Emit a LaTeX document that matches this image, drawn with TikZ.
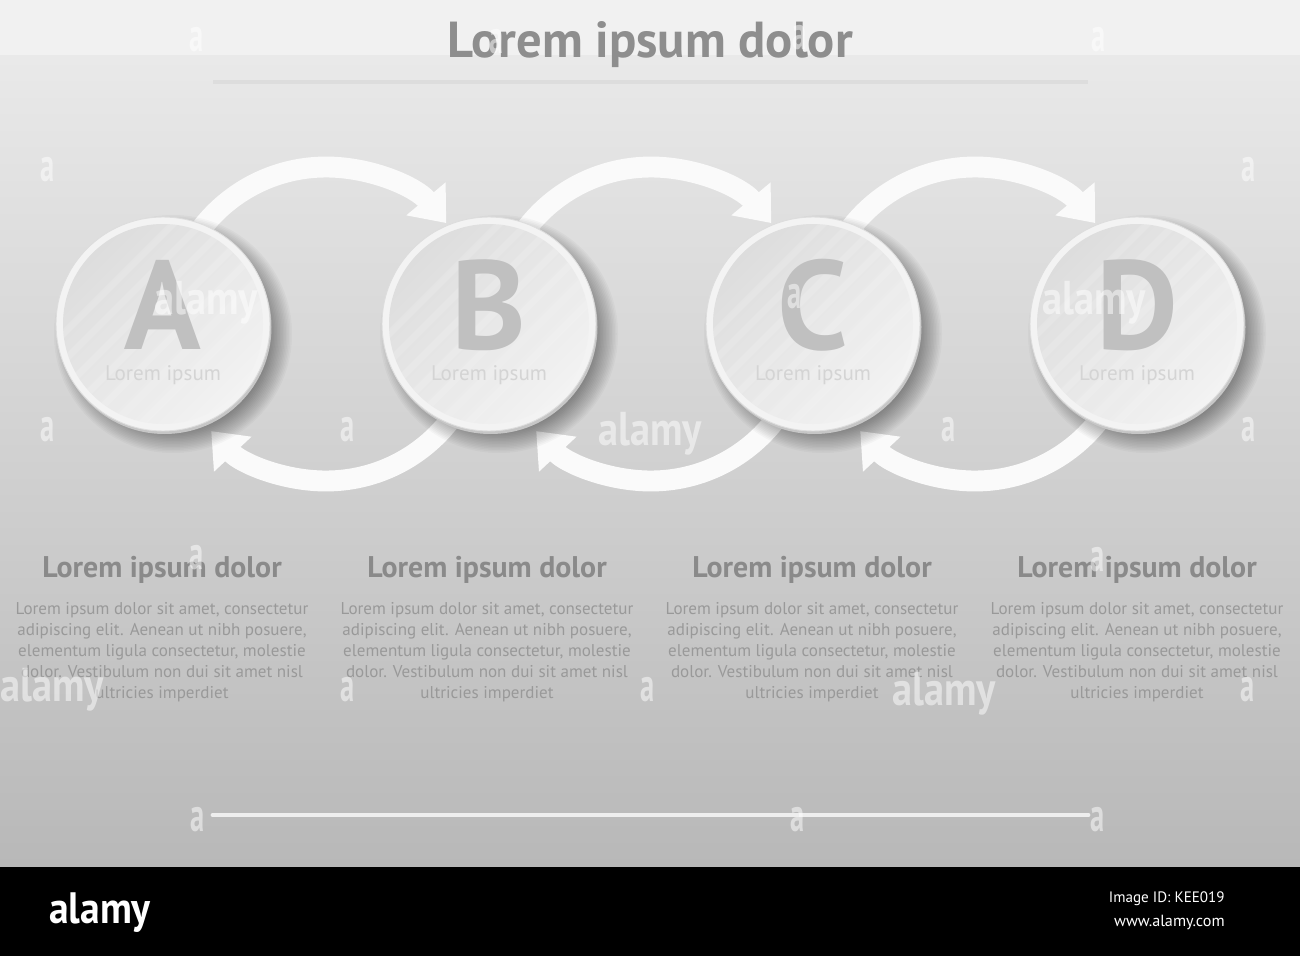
\documentclass[tikz,border=0pt]{standalone}
\usepackage{fontspec}
\setmainfont{PT Sans}
\usetikzlibrary{arrows.meta,calc,positioning}

\definecolor{bgtop}{HTML}{F1F1F1}
\definecolor{bgmid}{HTML}{E9E9E9}
\definecolor{bgbot}{HTML}{B8B8B8}
\definecolor{rulecol}{HTML}{DDDDDD}
\definecolor{baselinecol}{HTML}{EEEEEE}
\definecolor{flowcol}{HTML}{FAFAFA}
\definecolor{rimcol}{HTML}{F3F3F3}
\definecolor{rimedge}{HTML}{C6C6C6}
\definecolor{facedark}{HTML}{DDDDDD}
\definecolor{facelight}{HTML}{F2F2F2}
\definecolor{lettercol}{HTML}{C0C0C0}
\definecolor{capcol}{HTML}{D4D4D4}
\definecolor{titlecol}{HTML}{8E8E8E}
\definecolor{headcol}{HTML}{8A8A8A}
\definecolor{bodycol}{HTML}{999999}

\newcommand{\narrow}[2]{\scalebox{#1}[1]{#2}}

\begin{document}
\begin{tikzpicture}[x=0.02cm,y=0.02cm,
  flow/.style={draw=flowcol,line width=11.9pt,-{Triangle[length=18pt,width=28pt]}},
  disc/.style={circle,minimum size=4.28cm,inner sep=0pt,fill=rimcol,draw=rimedge!60,line width=0.5pt},
  face/.style={top color=facedark,bottom color=facelight,shading angle=45},
  letter/.style={anchor=base,font=\fontsize{72}{72}\bfseries\selectfont,text=lettercol},
  caption/.style={anchor=base,font=\fontsize{12}{12}\selectfont,text=capcol},
  heading/.style={anchor=base,font=\fontsize{17}{18}\bfseries\selectfont,text=headcol},
  body/.style={anchor=north,inner sep=0pt,align=center,font=\fontsize{9.7}{11.9}\selectfont,text=bodycol},
  wmark/.style={font=\fontsize{27}{27}\bfseries\selectfont,text=white,opacity=.5},
  footer/.style={anchor=east,text=white,inner sep=0pt},
]
  \useasboundingbox (0,0) rectangle (1300,-956);
  %% background
  \fill[bgtop] (0,0) rectangle (1300,-56);
  \shade[top color=bgmid,bottom color=bgbot] (0,-56) rectangle (1300,-867);
  \fill[black] (0,-867) rectangle (1300,-956);
  %% title
  \node[anchor=base,font=\fontsize{28.8}{30}\bfseries\selectfont,text=titlecol] (title) at (650,-58) {Lorem ipsum dolor};
  \coordinate (rule-l) at (213,-82);
  \coordinate (rule-r) at (1088,-82);
  \draw[rulecol,line width=2.3pt] (rule-l) -- (rule-r);
  %% circle centres
  \coordinate (a) at (163,-324);
  \coordinate (b) at (489,-324);
  \coordinate (c) at (813,-324);
  \coordinate (d) at (1137,-324);
  % Edge: A -> B, B -> A
  \draw[flow] ($(a)!.5!(b)$) ++(150:157) arc[start angle=150,end angle=40,radius=157];
  \draw[flow] ($(a)!.5!(b)$) ++(-30:157) arc[start angle=-30,end angle=-137,radius=157];
  % Edge: B -> C, C -> B
  \draw[flow] ($(b)!.5!(c)$) ++(150:157) arc[start angle=150,end angle=40,radius=157];
  \draw[flow] ($(b)!.5!(c)$) ++(-30:157) arc[start angle=-30,end angle=-137,radius=157];
  % Edge: C -> D, D -> C
  \draw[flow] ($(c)!.5!(d)$) ++(150:157) arc[start angle=150,end angle=40,radius=157];
  \draw[flow] ($(c)!.5!(d)$) ++(-30:157) arc[start angle=-30,end angle=-137,radius=157];
  % Nodes: A, B, C, D
  \foreach \n/\l in {a/A,b/B,c/C,d/D}{
    \foreach \r in {95,96.5,...,119}
      \fill[black,opacity=.028] ($(\n)+(10,-10)$) circle[radius=\r];
    \fill[rimedge] ($(\n)+(1.5,-3)$) circle[radius=107];
    \node[disc] (\n-disc) at (\n) {};
    \shade[face] (\n) circle[radius=100];
    \begin{scope}
      \clip (\n) circle[radius=100];
      \foreach \k in {-90,-62,...,90}
        \draw[white,opacity=.14,line width=4pt] ($(\n)+(\k-110,-110)$) -- ++(220,220);
    \end{scope}
    \node[letter] (\n-letter) at ($(\n)+(0,-25)$) {\l};
    \node[caption] (\n-caption) at ($(\n)+(0,-56)$) {Lorem ipsum};
  }
  %% text columns
  \foreach \i/\x in {1/162,2/487,3/812,4/1137}{
    \node[heading] (head\i) at (\x,-577) {Lorem ipsum dolor};
    \node[body] (text\i) at (\x,-602) {Lorem ipsum dolor sit amet, consectetur\\
      adipiscing elit. Aenean ut nibh posuere,\\
      elementum ligula consectetur, molestie\\
      dolor. Vestibulum non dui sit amet nisl\\
      ultricies imperdiet};
  }
  \coordinate (base-l) at (213,-815);
  \coordinate (base-r) at (1088,-815);
  \draw[baselinecol,line width=2.8pt,line cap=round] (base-l) -- (base-r);
  %% watermark
  \foreach \x/\y [count=\i] in {197/-40,497/-42,800/-38,1099/-40,48/-170,1249/-170,795/-297,
      48/-430,348/-430,949/-430,1249/-430,197/-558,1098/-560,348/-690,648/-690,
      1248/-690,198/-820,798/-820,1098/-820}
    \node[wmark] (wa\i) at (\x,\y) {\narrow{.6}{a}};
  \foreach \x/\y [count=\i] in {206/-303,1094/-303,650/-434,52/-690,944/-694}
    \node[wmark] (wm\i) at (\x,\y) {\narrow{.85}{alamy}};
  %% footer
  \node[text=white,font=\fontsize{25}{25}\bfseries\selectfont] (logo) at (100,-913) {\narrow{.9}{alamy}};
  \node[footer,font=\fontsize{8.6}{8.6}\selectfont] (imgid) at (1225,-899) {Image ID: KEE019};
  \node[footer,font=\fontsize{9.2}{9.2}\selectfont] (site) at (1225,-922) {www.alamy.com};
\end{tikzpicture}
\end{document}
